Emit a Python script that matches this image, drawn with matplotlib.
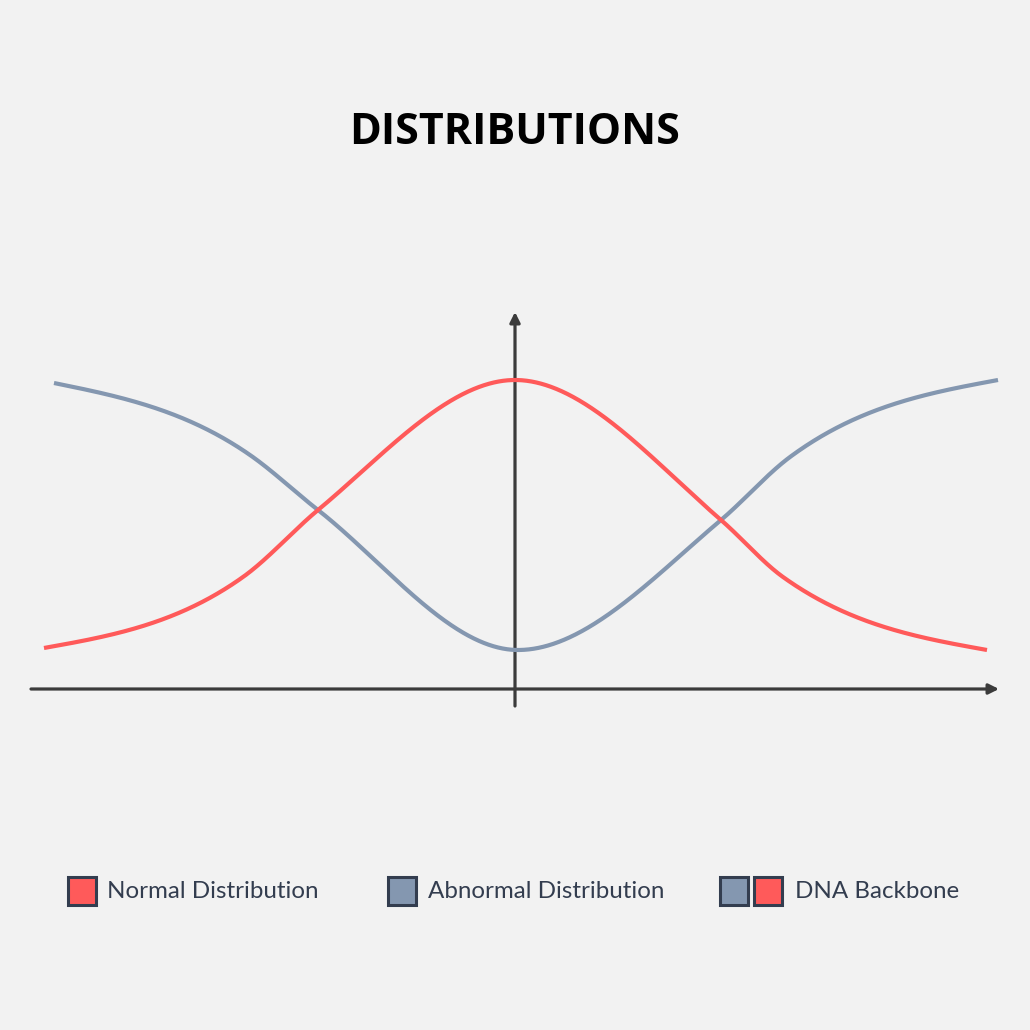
import matplotlib.pyplot as plt
import numpy as np
from matplotlib.patches import Rectangle

# data (x: horizontal position, y: height above x axis)
normal_x = [-4.71, -2.72, -1.97, 0.0, 2.06, 2.68, 4.72]
normal_y = [0.41, 1.12, 1.79, 3.09, 1.69, 1.12, 0.39]
abnormal_x = [-4.61, -2.65, -1.97, 0.03, 2.06, 2.75, 4.83]
abnormal_y = [3.06, 2.34, 1.79, 0.39, 1.69, 2.32, 3.09]

legend_labels = ['Normal Distribution', 'Abnormal Distribution', 'DNA Backbone']
title = 'DISTRIBUTIONS'

RED = '#FF5A5A'
BLUE = '#8497B0'
AXIS = '#3B3B3B'
EDGE = '#333D4F'
BG = '#F2F2F2'


def monotone(x, y, n=300):
    # monotone cubic (Steffen, like d3 curveMonotoneX)
    x = np.asarray(x, float)
    y = np.asarray(y, float)
    h = np.diff(x)
    s = np.diff(y) / h
    m = np.zeros_like(x)
    for k in range(1, len(x) - 1):
        p = (s[k - 1] * h[k] + s[k] * h[k - 1]) / (h[k - 1] + h[k])
        m[k] = (np.sign(s[k - 1]) + np.sign(s[k])) * min(abs(s[k - 1]), abs(s[k]), 0.5 * abs(p))
    m[0] = (3 * s[0] - m[1]) / 2
    m[-1] = (3 * s[-1] - m[-2]) / 2
    xs, ys = [], []
    for k in range(len(x) - 1):
        t = np.linspace(0, 1, n)
        h00 = 2 * t**3 - 3 * t**2 + 1
        h10 = t**3 - 2 * t**2 + t
        h01 = -2 * t**3 + 3 * t**2
        h11 = t**3 - t**2
        xs.append(x[k] + t * h[k])
        ys.append(h00 * y[k] + h10 * h[k] * m[k] + h01 * y[k + 1] + h11 * h[k] * m[k + 1])
    return np.concatenate(xs), np.concatenate(ys)


fig = plt.figure(figsize=(10.3, 10.3), dpi=100, facecolor=BG)
ax = fig.add_axes([0, 0, 1, 1])
ax.set_facecolor(BG)
ax.set_xlim(-5.15, 5.15)
ax.set_ylim(-3.41, 6.89)
ax.axis('off')

# axes with arrows
ax.annotate('', xy=(4.84, 0), xytext=(-4.84, 0),
            arrowprops=dict(arrowstyle='-|>', lw=2.3, color=AXIS, mutation_scale=15,
                            shrinkA=0, shrinkB=0))
ax.annotate('', xy=(0, 3.77), xytext=(0, -0.17),
            arrowprops=dict(arrowstyle='-|>', lw=2.3, color=AXIS, mutation_scale=15,
                            shrinkA=0, shrinkB=0))

xn, yn = monotone(normal_x, normal_y)
xa, ya = monotone(abnormal_x, abnormal_y)
ax.plot(xa, ya, color=BLUE, lw=3.0, solid_capstyle='butt', zorder=3)
ax.plot(xn, yn, color=RED, lw=3.0, solid_capstyle='butt', zorder=4)

fig.text(0.5, 1 - 133 / 1030, title, ha='center', va='center',
         fontsize=31, fontweight='bold', family='Open Sans', color='black')

# legend
W = 1030.0
def square(x0, color):
    fig.patches.append(Rectangle((x0 / W, 1 - 905 / W), 28 / W, 28 / W, transform=fig.transFigure,
                                 facecolor=color, edgecolor=EDGE, lw=2.2))

square(68, RED)
square(388, BLUE)
square(720, BLUE)
square(754, RED)
text_x = [107, 428, 795]
for tx, lab in zip(text_x, legend_labels):
    fig.text(tx / W, 1 - 892 / W, lab, ha='left', va='center', fontsize=17.4,
             family='Lato', color=EDGE)

fig.savefig('out.png', dpi=100, facecolor=BG)
